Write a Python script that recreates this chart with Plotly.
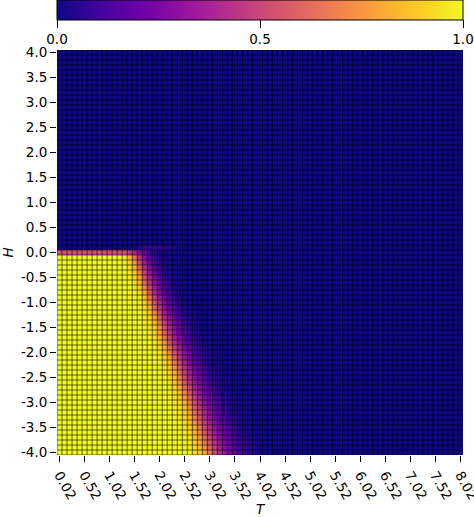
import numpy as np
import plotly.graph_objects as go

# ---- data ----
T_values = [round(0.02 + 0.1 * i, 2) for i in range(81)]
H_values = [round(-4.0 + 0.1 * j, 1) for j in range(81)]

x_tick_labels = ["0.02", "0.52", "1.02", "1.52", "2.02", "2.52", "3.02", "3.52", "4.02",
                 "4.52", "5.02", "5.52", "6.02", "6.52", "7.02", "7.52", "8.02"]
y_tick_labels = ["-4.0", "-3.5", "-3.0", "-2.5", "-2.0", "-1.5", "-1.0", "-0.5", "0.0",
                 "0.5", "1.0", "1.5", "2.0", "2.5", "3.0", "3.5", "4.0"]

# T where the value is ~0.5, for rows H = -4.0 ... -0.1
edge_T = [3.08, 3.04, 3.00, 2.96, 2.92, 2.89, 2.85, 2.81, 2.77, 2.73,
          2.69, 2.65, 2.61, 2.57, 2.53, 2.50, 2.46, 2.42, 2.38, 2.34,
          2.30, 2.26, 2.22, 2.18, 2.14, 2.11, 2.07, 2.03, 1.99, 1.95,
          1.91, 1.87, 1.83, 1.79, 1.75, 1.72, 1.68, 1.64, 1.60, 1.56]
# transition width per row (T units), rows H = -4.0 ... -0.1
edge_width = [0.27, 0.27, 0.27, 0.26, 0.26, 0.26, 0.25, 0.25, 0.25, 0.24,
              0.24, 0.24, 0.23, 0.23, 0.23, 0.22, 0.22, 0.22, 0.21, 0.21,
              0.21, 0.21, 0.20, 0.20, 0.20, 0.19, 0.19, 0.19, 0.18, 0.18,
              0.18, 0.18, 0.17, 0.17, 0.17, 0.17, 0.16, 0.16, 0.16, 0.16]
# shape of the transition (offset in widths -> value)
profile_s = [-4.0, -2.0, -1.3, -0.7, 0.0, 0.5, 1.0, 1.5, 2.0, 2.5, 3.0, 3.5, 4.5]
profile_v = [1.0, 0.99, 0.94, 0.82, 0.55, 0.40, 0.29, 0.20, 0.12, 0.07, 0.035, 0.015, 0.0]

# H = 0.0 row
h0_T = [0.02, 1.32, 1.42, 1.52, 1.62, 1.72, 1.82, 1.92, 2.02, 2.12]
h0_v = [0.53, 0.52, 0.45, 0.37, 0.27, 0.18, 0.10, 0.05, 0.02, 0.0]
# H = 0.1 row
h1_T = [1.52, 1.62, 1.72, 1.82, 1.92, 2.02, 2.12, 2.22, 2.32, 2.42]
h1_v = [0.0, 0.04, 0.07, 0.08, 0.08, 0.07, 0.05, 0.03, 0.02, 0.0]

# ---- build grid ----
T = np.array(T_values)
Z = np.zeros((len(H_values), len(T_values)))
for j in range(40):
    s = (T - edge_T[j]) / edge_width[j]
    Z[j] = np.interp(s, profile_s, profile_v)
Z[40] = np.interp(T, h0_T, h0_v, left=h0_v[0], right=0.0)
Z[41] = np.interp(T, h1_T, h1_v, left=0.0, right=0.0)

FONT = "DejaVu Sans"
FS = 13.5

fig = go.Figure()
fig.add_trace(go.Heatmap(
    x=T_values, y=H_values, z=Z, zmin=0, zmax=1,
    colorscale="Plasma",
    colorbar=dict(
        orientation="h", x=0.5, xanchor="center", len=1.0, lenmode="fraction",
        y=1 + 50 / 405, yanchor="top", ypad=0, xpad=0, thickness=20,
        tickvals=[0, 0.5, 1], ticktext=["0.0", "0.5", "1.0"],
        ticks="outside", ticklen=8, tickcolor="black",
        tickfont=dict(family=FONT, size=FS, color="black"),
        outlinewidth=1, outlinecolor="black",
    ),
    hoverinfo="skip",
))

# cell edge lines
dx = 0.1
xs, ys = [], []
for i in range(82):
    xv = T_values[0] - dx / 2 + dx * i
    xs += [xv, xv, None]
    ys += [H_values[0] - 0.05, H_values[-1] + 0.05, None]
for j in range(82):
    yv = H_values[0] - 0.05 + 0.1 * j
    xs += [T_values[0] - dx / 2, T_values[-1] + dx / 2, None]
    ys += [yv, yv, None]
fig.add_trace(go.Scatter(x=xs, y=ys, mode="lines",
                         line=dict(color="rgba(0,0,0,0.65)", width=0.9),
                         hoverinfo="skip", showlegend=False))

fig.update_layout(
    width=474, height=517,
    margin=dict(l=57, r=11, t=50, b=62, autoexpand=False),
    paper_bgcolor="white", plot_bgcolor="white",
    font=dict(family=FONT, size=FS, color="black"),
    showlegend=False,
)
fig.update_xaxes(
    range=[T_values[0] - 0.05, T_values[-1] + 0.05],
    tickvals=[float(v) for v in x_tick_labels], ticktext=x_tick_labels,
    tickangle=60, ticks="outside", ticklen=6, tickcolor="black",
    showgrid=False, zeroline=False, showline=False, automargin=False,
    ticklabeloverflow="allow",
    tickfont=dict(family=FONT, size=FS),
    title=dict(text="<i>T</i>", font=dict(family=FONT, size=FS), standoff=4),
)
fig.update_yaxes(
    range=[H_values[0] - 0.05, H_values[-1] + 0.05],
    tickvals=[float(v) for v in y_tick_labels], ticktext=y_tick_labels,
    ticks="outside", ticklen=6, tickcolor="black",
    showgrid=False, zeroline=False, showline=False, automargin=False,
    ticklabeloverflow="allow",
    tickfont=dict(family=FONT, size=FS),
    title=dict(text="<i>H</i>", font=dict(family=FONT, size=FS), standoff=6),
)

fig.write_html("out.html", config={"displayModeBar": False},
               post_script="document.body.style.margin='0';")
